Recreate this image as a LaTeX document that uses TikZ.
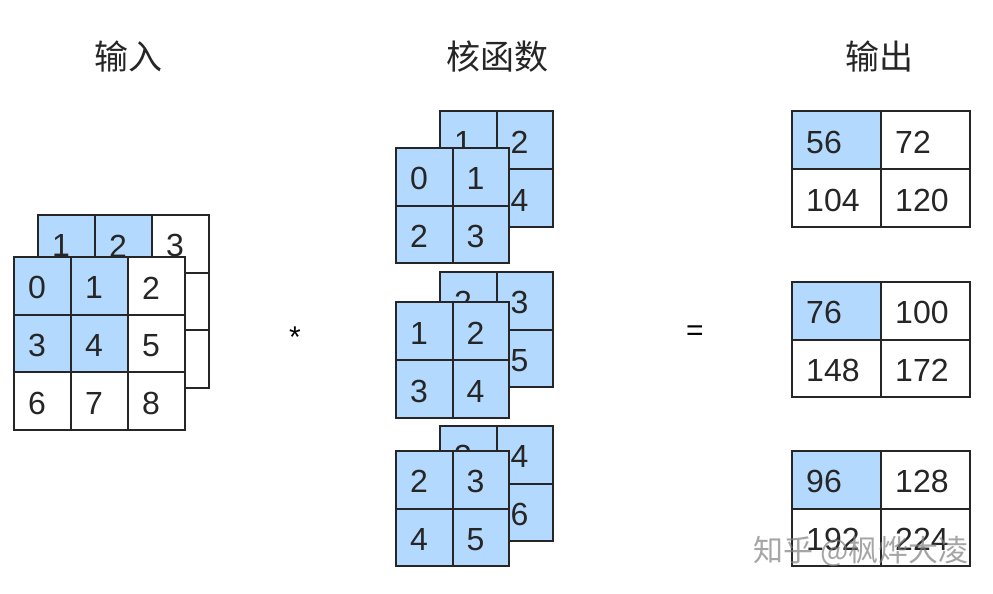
\documentclass[tikz,border=0pt]{standalone}
\usepackage{fontspec}
\setmainfont{Liberation Sans}
\newfontfamily\cjk{Noto Sans CJK SC}
\definecolor{bl}{RGB}{179,217,255}
\tikzset{
  cellbox/.style={draw=black!85,line width=2pt,anchor=north west,inner sep=0pt,outer sep=0pt},
  numtxt/.style={anchor=west,xshift=14pt,yshift=-2pt,font=\fontsize{32}{34}\selectfont,text=black!85,inner sep=0pt},
  ttl/.style={font=\cjk\fontsize{34}{36}\selectfont,text=black!85},
}
\newcommand\grid[6]{%
  \foreach \c/\r/\n/\f in {#6} {%
    \node[cellbox,fill=\f,minimum width=#4pt,minimum height=#5pt,label={[numtxt]west:\n}] (#1-\c-\r) at ({#2+\c*#4},{#3+\r*#5}) {};
  }}
\begin{document}
\begin{tikzpicture}[x=1pt,y=-1pt]
\useasboundingbox (0,0) rectangle (993,594);
\node[ttl] (t1) at (128,57) {输入};
\node[ttl] (t2) at (497,57) {核函数};
\node[ttl] (t3) at (879,57) {输出};
\node[font=\fontsize{30}{32}\selectfont] (op1) at (295,337) {*};
\node[font=\fontsize{30}{32}\selectfont] (op2) at (695,333) {=};
% input
\grid{ib}{38}{215}{57}{57.7}{0/0/1/bl,1/0/2/bl,2/0/3/white,0/1/4/white,1/1/5/white,2/1/6/white,0/2/7/white,1/2/8/white,2/2/9/white}
\grid{if}{14}{257}{57}{57.7}{0/0/0/bl,1/0/1/bl,2/0/2/white,0/1/3/bl,1/1/4/bl,2/1/5/white,0/2/6/white,1/2/7/white,2/2/8/white}
% kernels
\grid{kb1}{440}{111}{56.5}{58}{0/0/1/bl,1/0/2/bl,0/1/3/bl,1/1/4/bl}
\grid{kf1}{396}{148}{56.5}{57.5}{0/0/0/bl,1/0/1/bl,0/1/2/bl,1/1/3/bl}
\grid{kb2}{440}{272}{56.5}{57.5}{0/0/2/bl,1/0/3/bl,0/1/4/bl,1/1/5/bl}
\grid{kf2}{396}{302}{56.5}{58}{0/0/1/bl,1/0/2/bl,0/1/3/bl,1/1/4/bl}
\grid{kb3}{440}{426}{56.5}{57.5}{0/0/3/bl,1/0/4/bl,0/1/5/bl,1/1/6/bl}
\grid{kf3}{396}{451}{56.5}{57.5}{0/0/2/bl,1/0/3/bl,0/1/4/bl,1/1/5/bl}
% outputs
\grid{o1}{792}{111}{89}{58}{0/0/56/bl,1/0/72/white,0/1/104/white,1/1/120/white}
\grid{o2}{792}{282}{89}{57.5}{0/0/76/bl,1/0/100/white,0/1/148/white,1/1/172/white}
\grid{o3}{792}{451}{89}{57.5}{0/0/96/bl,1/0/128/white,0/1/192/white,1/1/224/white}
\node[font=\cjk\fontsize{30}{32}\selectfont,text=gray,opacity=0.7,anchor=east] (wm) at (972,551) {知乎 @枫烨大凌};
\end{tikzpicture}
\end{document}
